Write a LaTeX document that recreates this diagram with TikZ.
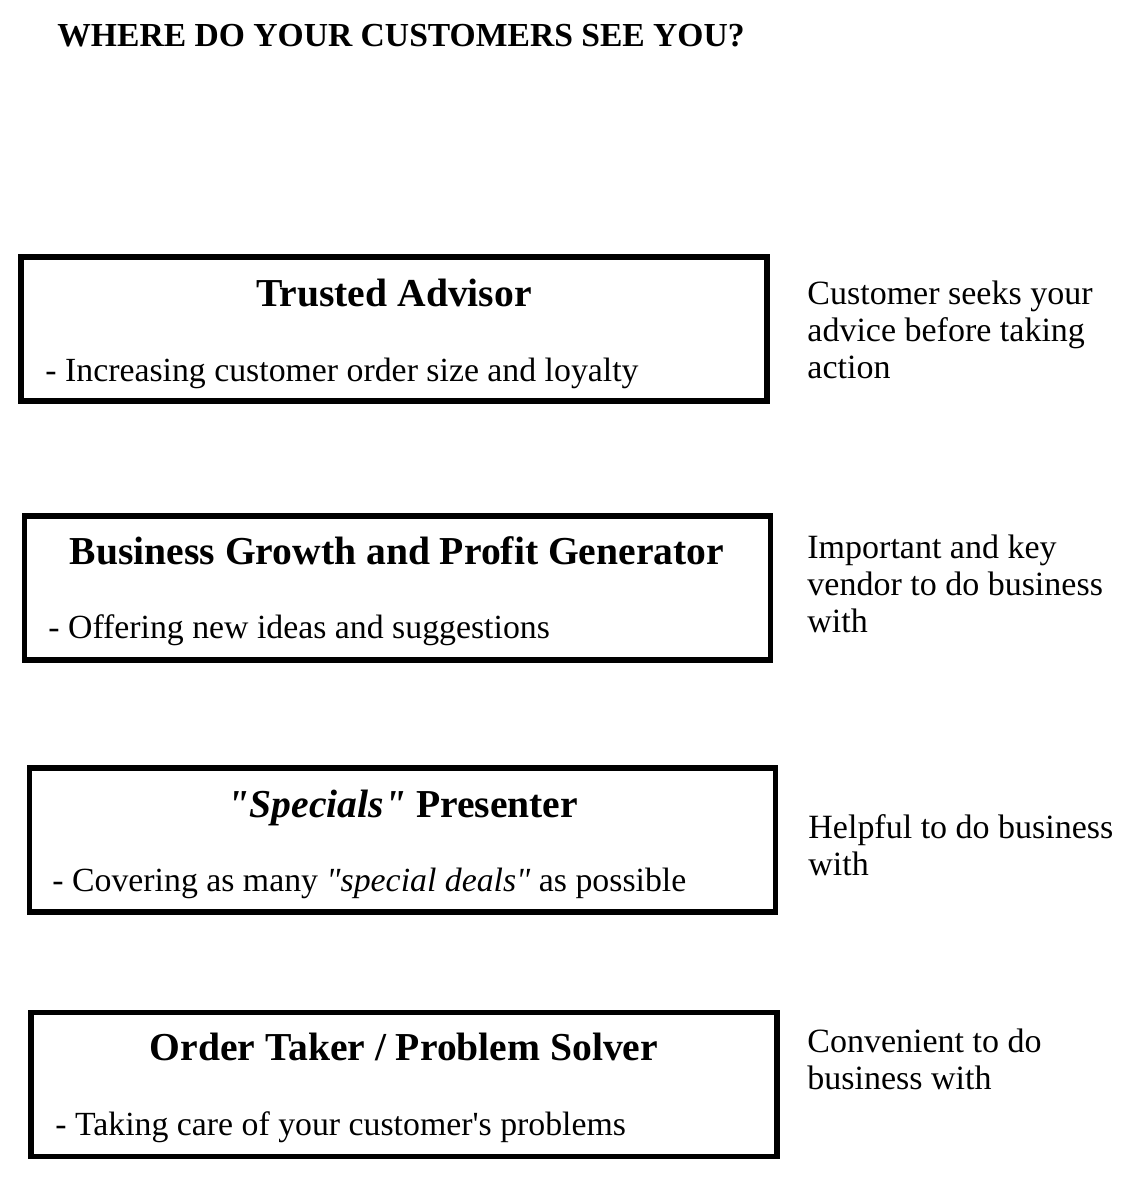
\documentclass[tikz,border=0pt]{standalone}
\usepackage{fontspec}
\setmainfont{Liberation Serif}
\usepackage{tikz}
\newcommand{\boxwid}{373pt}
\newcommand{\boxhei}{72pt}
\newcommand{\headsize}{\fontsize{16.8}{20}\selectfont\bfseries}
\newcommand{\rolesize}{\fontsize{19.8}{23}\selectfont\bfseries}
\newcommand{\bodysize}{\fontsize{16.9}{18.5}\selectfont}
\newcommand{\notesize}{\fontsize{17}{18.5}\selectfont}
\newcommand{\dq}{\textquotedbl}

\begin{document}
\begin{tikzpicture}[x=0.5pt, y=-0.5pt,
    rolebox/.style={draw, line width=2.6pt, minimum width=\boxwid, minimum height=\boxhei, inner sep=0pt},
    roletitle/.style={anchor=base, inner sep=0pt, font=\rolesize},
    roletext/.style={anchor=base west, inner sep=0pt, font=\bodysize},
    sidenote/.style={anchor=base west, inner sep=0pt, align=left, font=\notesize}]
    \useasboundingbox (0, 0) rectangle (1136, 1180);

    % heading
    \node [anchor=base west, inner sep=0pt, font=\headsize] (head) at (57, 46) {WHERE DO YOUR CUSTOMERS SEE YOU?};

    % boxes
    \node [rolebox] (advisor) at (394, 329) {};
    \node [rolebox] (growth) at (397.5, 588) {};
    \node [rolebox] (specials) at (402.5, 840) {};
    \node [rolebox] (taker) at (404, 1084.5) {};

    % box titles
    \node [roletitle] (advisortitle) at (394, 306) {Trusted Advisor};
    \node [roletitle] (growthtitle) at (397, 564) {Business Growth and Profit Generator};
    \node [roletitle] (specialstitle) at (403, 817) {\textit{\dq Specials\dq} Presenter};
    \node [roletitle] (takertitle) at (404, 1060) {Order Taker / Problem Solver};

    % box texts
    \node [roletext] (advisortext) at (45, 381) {- Increasing customer order size and loyalty};
    \node [roletext] (growthtext) at (48, 638) {- Offering new ideas and suggestions};
    \node [roletext] (specialstext) at (52, 891) {- Covering as many \textit{\dq special deals\dq} as possible};
    \node [roletext] (takertext) at (55, 1135) {- Taking care of your customer\textquotesingle s problems};

    % side notes (base is the last line)
    \node [sidenote] (advisornote) at (807, 378) {Customer seeks your\\advice before taking\\action};
    \node [sidenote] (growthnote) at (807, 632) {Important and key\\vendor to do business\\with};
    \node [sidenote] (specialsnote) at (808, 875) {Helpful to do business\\with};
    \node [sidenote] (takernote) at (807, 1089) {Convenient to do\\business with};
\end{tikzpicture}
\end{document}
